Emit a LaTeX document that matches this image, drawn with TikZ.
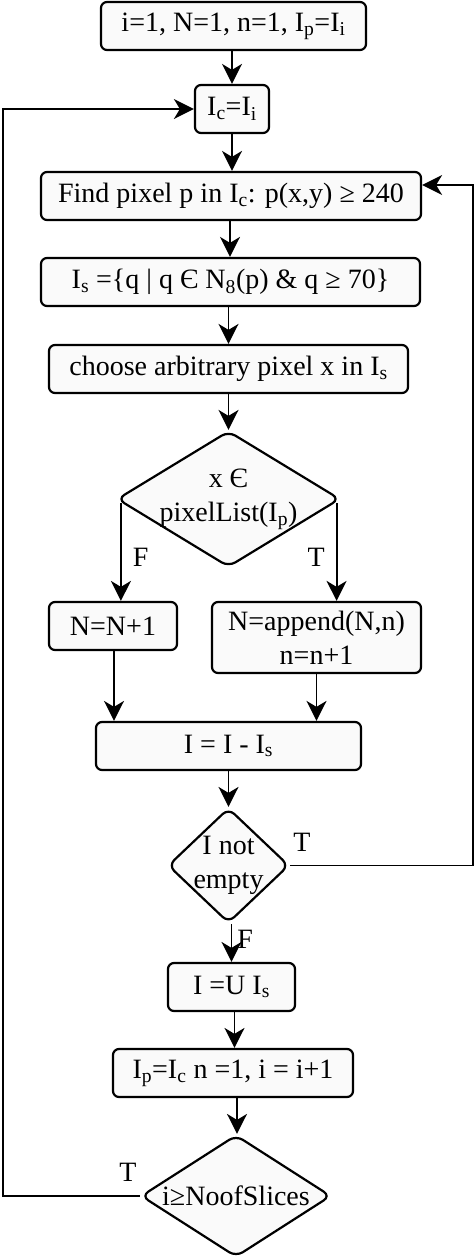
\documentclass[tikz,border=0pt]{standalone}
\usepackage{fontspec}
\setmainfont{Liberation Serif}
\usetikzlibrary{arrows.meta,shapes.geometric}
\newcommand{\sbs}[1]{\textsubscript{#1}}
\tikzset{
  box/.style={draw, line width=2.2pt, rounded corners=6pt, fill=black!2, inner sep=0pt, anchor=center, align=center},
  dia/.style={draw, line width=2.2pt, diamond, rounded corners=8pt, fill=black!2, inner sep=0pt},
  arr/.style={line width=1.9pt, -{Stealth[length=20pt,width=20pt,inset=6pt]}},
  lbl/.style={inner sep=0pt},
  big/.style={font=\fontsize{28}{34}\selectfont}
}
\begin{document}
\begin{tikzpicture}[x=1pt,y=-1pt,big]
\useasboundingbox (0,0) rectangle (474,1256);
\node[box, minimum width=265pt, minimum height=48pt] (b1) at (233.5,26) {i=1, N=1, n=1, I\sbs{p}=I\sbs{i}};
\node[box, minimum width=74pt, minimum height=48pt] (b2) at (232,109) {I\sbs{c}=I\sbs{i}};
\node[box, minimum width=380pt, minimum height=48pt] (b3) at (231,196) {Find pixel p in I\sbs{c}: p(x,y) ≥ 240};
\node[box, minimum width=379pt, minimum height=48pt] (b4) at (230.5,282) {I\sbs{s} =\{q | q Є N\sbs{8}(p) \& q ≥ 70\}};
\node[box, minimum width=359pt, minimum height=48pt] (b5) at (228.5,369) {choose arbitrary pixel x in I\sbs{s}};
\node[dia, minimum width=223pt, minimum height=136pt,
  label={[align=center,big]center:{x Є\\pixelList(I\sbs{p})}}] (d1) at (228.5,499) {};
\node[box, minimum width=128pt, minimum height=48pt] (b6) at (113,626) {N=N+1};
\node[box, minimum width=209pt, minimum height=71pt] (b7) at (316.5,637.5) {N=append(N,n)\\n=n+1};
\node[box, minimum width=265pt, minimum height=48pt] (b8) at (228.5,746) {I = I - I\sbs{s}};
\node[dia, minimum width=121pt, minimum height=115pt,
  label={[align=center,big]center:{I not\\empty}}] (d2) at (228.5,865.5) {};
\node[box, minimum width=127pt, minimum height=48pt] (b9) at (231.5,987) {I =U I\sbs{s}};
\node[box, minimum width=240pt, minimum height=48pt] (b10) at (233,1073) {I\sbs{p}=I\sbs{c} n =1, i = i+1};
\node[dia, minimum width=190pt, minimum height=122pt,
  label={[big]center:{i≥NoofSlices}}] (d3) at (236,1196) {};

\coordinate (rloop) at (473,0);
\coordinate (lloop) at (3,0);

\draw[arr] (b1.south -| b2) -- (b2.north);
\draw[arr] (b2.south) -- (b2.south |- b3.north);
\draw[arr] ([xshift=-1pt]b3.south) -- ([xshift=-1pt]b3.south |- b4.north);
\draw[arr] ([xshift=-2pt]b4.south) -- ([xshift=-2pt]b4.south |- b5.north);
\draw[arr] (b5.south) -- (d1.north);
\draw[arr] ([xshift=5pt,yshift=-4pt]d1.west) -- ([xshift=5pt]d1.west |- b6.north)
  node[lbl, pos=0.55, right=11pt] (lF1) {F};
\draw[arr] ([xshift=-4.5pt,yshift=-4pt]d1.east) -- ([xshift=-4.5pt]d1.east |- b7.north)
  node[lbl, pos=0.55, left=11pt] (lT1) {T};
\draw[arr] ([xshift=1pt]b6.south) -- ([xshift=1pt]b6.south |- b8.north);
\draw[arr] (b7.south) -- (b7.south |- b8.north);
\draw[arr] (b8.south) -- (d2.north);
\draw[arr] ([xshift=3pt]d2.south) -- ([xshift=3pt]d2.south |- b9.north)
  node[lbl, pos=0.4, right=5pt] (lF2) {F};
\draw[arr] ([xshift=3pt]b9.south) -- ([xshift=3pt]b9.south |- b10.north);
\draw[arr] ([xshift=4pt]b10.south) -- ([xshift=4pt]b10.south |- d3.north);
\draw[arr] (d2.east) -- (d2.east -| rloop) |- ([yshift=11pt]b3.east);
\node[lbl] (lT2) at (302,842) {T};
\draw[arr] (d3.west) -- (d3.west -| lloop) |- (b2.west);
\node[lbl] (lT3) at (128,1172) {T};
\end{tikzpicture}
\end{document}
